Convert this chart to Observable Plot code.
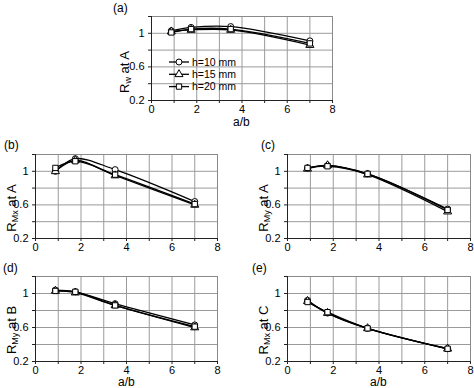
<!DOCTYPE html>
<html><head><meta charset="utf-8">
<script src="https://cdn.jsdelivr.net/npm/d3@7"></script>
<script src="https://cdn.jsdelivr.net/npm/@observablehq/plot@0.6"></script>
<style>
body{margin:0;background:#fff;font-family:"Liberation Sans",Arial,sans-serif;}
#root{position:relative;width:474px;height:388px;overflow:hidden;background:#fff;}
.panel{position:absolute;}
.txt{position:absolute;white-space:nowrap;color:#000;line-height:1;}
.ylab{position:absolute;white-space:nowrap;font-size:13px;line-height:1;transform:translate(-50%,-50%) rotate(-90deg);}
.ylab sub{font-size:9px;vertical-align:-2px;}
</style></head><body><div id="root"></div>
<script>
// ---- data ----
const abRatio = [0.875, 1.75, 3.5, 7];
const seriesNames = ["h=10 mm", "h=15 mm", "h=20 mm"];
const seriesSymbols = ["circle", "triangle", "square"];
const xTicks = [0, 2, 4, 6, 8];
const xGrid = [0, 1, 2, 3, 4, 5, 6, 7, 8];
const yTicks = [0.2, 0.6, 1];
const yGrid = [0.2, 0.4, 0.6, 0.8, 1.0, 1.2];

// (a) R_w at A
const rwA_h10 = [1.03, 1.07, 1.08, 0.91];
const rwA_h15 = [1.02, 1.04, 1.04, 0.86];
const rwA_h20 = [1.01, 1.05, 1.05, 0.88];
// (b) R_Mx at A
const mxA_h10 = [1.00, 1.15, 1.02, 0.64];
const mxA_h15 = [1.00, 1.13, 0.95, 0.60];
const mxA_h20 = [1.04, 1.12, 0.96, 0.61];
// (c) R_My at A
const myA_h10 = [1.04, 1.07, 0.97, 0.55];
const myA_h15 = [1.03, 1.07, 0.96, 0.52];
const myA_h20 = [1.04, 1.06, 0.97, 0.54];
// (d) R_My at B
const myB_h10 = [1.04, 1.02, 0.88, 0.63];
const myB_h15 = [1.03, 1.01, 0.86, 0.60];
const myB_h20 = [1.03, 1.02, 0.86, 0.61];
// (e) R_Mx at C
const mxC_h10 = [0.92, 0.77, 0.59, 0.35];
const mxC_h15 = [0.91, 0.77, 0.59, 0.35];
const mxC_h20 = [0.90, 0.78, 0.59, 0.35];

// ---- layout ----
const root = document.getElementById("root");
const mL = 34, mR = 6, mT = 4, mB = 18;

function rows(arrs) {
  const out = [];
  arrs.forEach((arr, si) => arr.forEach((v, i) => out.push({ab: abRatio[i], v, series: seriesNames[si]})));
  return out;
}
function fmtY(d) {
  if (!yTicks.some(t => Math.abs(t - d) < 1e-9)) return "";
  return Math.abs(d - 1) < 1e-9 ? "1" : d.toFixed(1);
}
function fmtX(d) {
  return xTicks.includes(d) ? String(d) : "";
}

function panel(frame, arrs) {
  const [x0, y0, x1, y1] = frame;
  const data = rows(arrs);
  const p = Plot.plot({
    width: x1 - x0 + mL + mR,
    height: y1 - y0 + mT + mB,
    marginLeft: mL, marginRight: mR, marginTop: mT, marginBottom: mB,
    style: {fontFamily: "Liberation Sans, Arial, sans-serif", color: "#000", background: "transparent", overflow: "visible"},
    x: {domain: [0, 8]},
    y: {domain: [0.2, 1.2]},
    symbol: {domain: seriesNames, range: seriesSymbols},
    marks: [
      Plot.gridX(xGrid, {stroke: "#9a9a9a", strokeOpacity: 1, strokeWidth: 1}),
      Plot.gridY(yGrid, {stroke: "#9a9a9a", strokeOpacity: 1, strokeWidth: 1}),
      Plot.frame({stroke: "#8a8a8a", strokeWidth: 1}),
      Plot.ruleX([0], {stroke: "#222", strokeWidth: 1}),
      Plot.ruleY([0.2], {stroke: "#222", strokeWidth: 1}),
      Plot.axisX(xGrid, {tickSize: 3, tickPadding: 2, fontSize: 11, tickFormat: fmtX, label: null, stroke: "#222"}),
      Plot.axisY(yGrid, {tickSize: 3, tickPadding: 4, fontSize: 11, tickFormat: fmtY, label: null, stroke: "#222"}),
      Plot.line(data, {x: "ab", y: "v", z: "series", curve: "catmull-rom", stroke: "#000", strokeWidth: 1.3}),
      Plot.dot(data, {x: "ab", y: "v", symbol: "series", r: 3, fill: "white", stroke: "#000", strokeWidth: 1})
    ]
  });
  p.classList.add("panel");
  p.style.left = (x0 - mL) + "px";
  p.style.top = (y0 - mT) + "px";
  root.appendChild(p);
}

function text(str, left, top, size) {
  const d = document.createElement("div");
  d.className = "txt";
  d.style.left = left + "px";
  d.style.top = top + "px";
  d.style.fontSize = size + "px";
  d.textContent = str;
  root.appendChild(d);
}
function ylab(main, sub, rest, cx, cy) {
  const d = document.createElement("div");
  d.className = "ylab";
  d.style.left = cx + "px";
  d.style.top = cy + "px";
  d.innerHTML = main + "<sub>" + sub + "</sub>" + rest;
  root.appendChild(d);
}

panel([151, 16, 332, 100], [rwA_h10, rwA_h15, rwA_h20]);
panel([35, 154, 217, 238], [mxA_h10, mxA_h15, mxA_h20]);
panel([287, 154, 470, 238], [myA_h10, myA_h15, myA_h20]);
panel([35, 276, 217, 361], [myB_h10, myB_h15, myB_h20]);
panel([287, 276, 470, 361], [mxC_h10, mxC_h15, mxC_h20]);

text("(a)", 113, 2, 12);
text("(b)", 4, 139, 12);
text("(c)", 261, 139, 12);
text("(d)", 3, 262, 12);
text("(e)", 252, 262, 12);

ylab("R", "w", " at A", 125, 72);
ylab("R", "Mx", " at A", 12, 208);
ylab("R", "My", " at A", 264, 208);
ylab("R", "My", " at B", 12, 330);
ylab("R", "Mx", " at C", 264, 330);

text("a/b", 233, 116, 12);
text("a/b", 118, 376, 12);
text("a/b", 370, 376, 12);

// legend for (a)
const leg = d3.select(root).append("svg")
  .style("position", "absolute").style("left", "165px").style("top", "54px")
  .attr("width", 80).attr("height", 42);
seriesNames.forEach((name, i) => {
  const y = 8 + i * 12.3;
  const g = leg.append("g");
  g.append("line").attr("x1", 4).attr("x2", 24).attr("y1", y).attr("y2", y).attr("stroke", "#000").attr("stroke-width", 1.3);
  const sym = {circle: d3.symbolCircle, triangle: d3.symbolTriangle, square: d3.symbolSquare}[seriesSymbols[i]];
  g.append("path").attr("transform", `translate(14,${y})`).attr("d", d3.symbol(sym, 28)())
    .attr("fill", "white").attr("stroke", "#000");
  g.append("text").attr("x", 27).attr("y", y).attr("dy", "0.35em")
    .attr("font-size", 10.5).attr("font-family", "Liberation Sans, Arial, sans-serif").text(name);
});
</script>
</body></html>
